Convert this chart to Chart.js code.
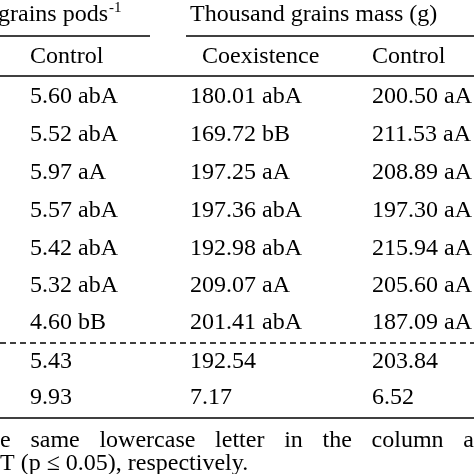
<!DOCTYPE html>
<html>
<head>
<meta charset="utf-8">
<script src="https://cdn.jsdelivr.net/npm/chart.js@4"></script>
<style>
  html, body { margin: 0; padding: 0; background: #fff; }
  #wrap { width: 474px; height: 474px; }
</style>
</head>
<body>
<div id="wrap"><canvas id="table"></canvas></div>
<script>
// table content
const controlPods = ["5.60 abA", "5.52 abA", "5.97 aA", "5.57 abA", "5.42 abA", "5.32 abA", "4.60 bB"];
const coexMass = ["180.01 abA", "169.72 bB", "197.25 aA", "197.36 abA", "192.98 abA", "209.07 aA", "201.41 abA"];
const controlMass = ["200.50 aA", "211.53 aA", "208.89 aA", "197.30 aA", "215.94 aA", "205.60 aA", "187.09 aA"];
const meanRow = ["5.43", "192.54", "203.84"];
const cvRow = ["9.93", "7.17", "6.52"];
const footnotes = ["e same lowercase letter in the column a", "T (p \u2264 0.05), respectively."];

// layout in page units (x: 0..474, y: 0..474 top-down)
const colX = [30, 190, 372];
const rowY = [97, 135, 173, 211, 249, 286, 323];

const font = '24px "Liberation Serif", "Times New Roman", serif';

const tablePlugin = {
  id: "tablePlugin",
  afterDraw(chart) {
    const ctx = chart.ctx;
    const sx = chart.scales.x, sy = chart.scales.y;
    const X = (v) => sx.getPixelForValue(v);
    const Y = (v) => sy.getPixelForValue(v);
    ctx.save();
    ctx.fillStyle = "#000";
    ctx.strokeStyle = "#000";
    ctx.font = font;
    ctx.textBaseline = "middle";

    const line = (x1, x2, y, dash) => {
      ctx.beginPath();
      ctx.lineWidth = 1.5;
      ctx.setLineDash(dash || []);
      ctx.moveTo(X(x1), Y(y));
      ctx.lineTo(X(x2), Y(y));
      ctx.stroke();
      ctx.setLineDash([]);
    };

    // headers
    ctx.textAlign = "left";
    ctx.fillText("grains pods", X(-2), Y(15));
    const w = ctx.measureText("grains pods").width;
    ctx.font = '15px "Liberation Serif", serif';
    ctx.fillText("-1", X(-2) + w + 1, Y(8));
    ctx.font = font;
    ctx.fillText("Thousand grains mass (g)", X(190), Y(15));
    line(0, 150, 36);
    line(186, 474, 36);
    ctx.fillText("Control", X(30), Y(57));
    ctx.fillText("Coexistence", X(202), Y(57));
    ctx.fillText("Control", X(372), Y(57));
    line(0, 474, 76);

    // data rows
    rowY.forEach((y, i) => {
      ctx.fillText(controlPods[i], X(colX[0]), Y(y));
      ctx.fillText(coexMass[i], X(colX[1]), Y(y));
      ctx.fillText(controlMass[i], X(colX[2]), Y(y));
    });
    line(0, 474, 343, [6, 4]);
    meanRow.forEach((t, j) => ctx.fillText(t, X(colX[j]), Y(362)));
    cvRow.forEach((t, j) => ctx.fillText(t, X(colX[j]), Y(398)));
    line(0, 474, 418);

    // justified first footnote line
    const words = footnotes[0].split(" ");
    const total = words.reduce((s, t) => s + ctx.measureText(t).width, 0);
    const gap = (X(474) - X(0) - total) / (words.length - 1);
    let cx = X(0);
    words.forEach((t) => {
      ctx.fillText(t, cx, Y(441));
      cx += ctx.measureText(t).width + gap;
    });
    ctx.fillText(footnotes[1], X(0), Y(464));
    ctx.restore();
  }
};

new Chart(document.getElementById("table"), {
  type: "scatter",
  data: { datasets: [{ data: [], pointRadius: 0 }] },
  options: {
    responsive: true,
    maintainAspectRatio: false,
    animation: false,
    layout: { padding: 0 },
    plugins: { legend: { display: false }, tooltip: { enabled: false } },
    scales: {
      x: { type: "linear", min: 0, max: 474, display: false },
      y: { type: "linear", min: 0, max: 474, reverse: true, display: false }
    }
  },
  plugins: [tablePlugin]
});
</script>
</body>
</html>
